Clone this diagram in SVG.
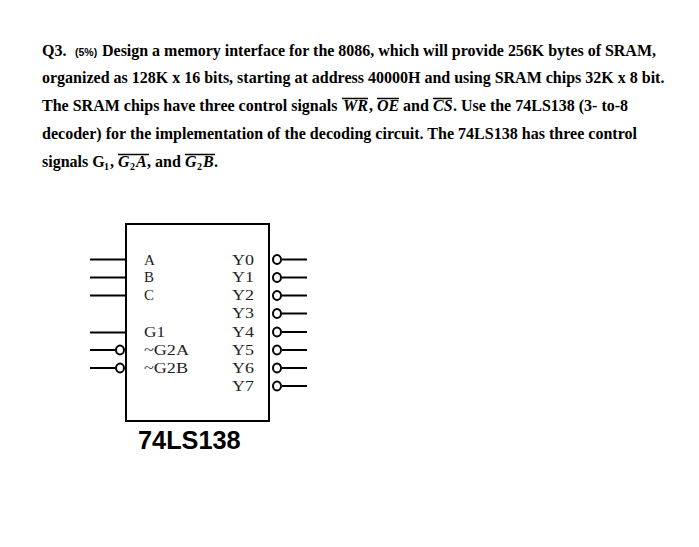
<svg xmlns="http://www.w3.org/2000/svg" width="699" height="547" viewBox="0 0 699 547">
<style>
.t{font-family:"Liberation Serif",serif;font-size:16px;font-weight:bold;fill:#000}
.i{font-style:italic}
.s{font-size:10px}
.o{stroke:#000;stroke-width:1.3;fill:none}
.m{font-family:"Liberation Serif",serif;font-size:15px;fill:#222}
.w{stroke:#000;stroke-width:2;fill:none}
.b{stroke:#000;stroke-width:2;fill:#fff}
</style>
<rect width="699" height="547" fill="#fff"/>
<g id="question">
<text class="t" x="42" y="56">Q3.</text>
<text x="75" y="56" font-family="Liberation Sans,sans-serif" font-size="10.500" font-weight="bold">(5%)</text>
<text class="t" x="102" y="56" textLength="554">Design a memory interface for the 8086, which will provide 256K bytes of SRAM,</text>
<text class="t" x="42" y="83">organized as 128K x 16 bits, starting at address 40000H and using SRAM chips 32K x 8 bit.</text>
<text class="t" x="42" y="111">The SRAM chips have three control signals</text>
<text class="t i" x="343" y="111">WR</text>
<text class="t" x="369" y="111">,</text>
<text class="t i" x="377" y="111">OE</text>
<text class="t" x="403" y="111">and</text>
<text class="t i" x="433" y="111">CS</text>
<text class="t" x="453" y="111">. Use the 74LS138 (3- to-8</text>
<text class="t" x="42" y="139" textLength="595">decoder) for the implementation of the decoding circuit. The 74LS138 has three control</text>
<text class="t" x="42" y="167">signals G</text>
<text class="t s" x="104" y="170">1</text>
<text class="t" x="110" y="167">,</text>
<text class="t i" x="118" y="167">G</text>
<text class="t s" x="130" y="170">2</text>
<text class="t i" x="136" y="167">A</text>
<text class="t" x="147" y="167">, and</text>
<text class="t i" x="185" y="167">G</text>
<text class="t s" x="197" y="170">2</text>
<text class="t i" x="203" y="167">B</text>
<text class="t" x="214" y="167">.</text>
<path class="o" d="M342 98.500H368M377 98.500H399M433 98.500H452M118 154.500H149M185 154.500H215"/>
</g>
<g id="connectors">
<path class="w" d="M90 259.500H126M90 277.500H126M90 295.500H126M90 332.500H126M90 350H115M90 368H115"/>
<path class="w" d="M282 259.500H307M282 277.500H307M282 295.500H307M282 313.500H307M282 332H307M282 350H307M282 368H307M282 386H307"/>
</g>
<g id="chip">
<rect x="126" y="224" width="143" height="197" fill="#fff" stroke="#000" stroke-width="2"/>
<ellipse class="b" cx="120" cy="350" rx="4" ry="4.500"/>
<ellipse class="b" cx="120" cy="368" rx="4" ry="4.500"/>
<ellipse class="b" cx="277" cy="259.500" rx="4" ry="4.500"/>
<ellipse class="b" cx="277" cy="277.500" rx="4" ry="4.500"/>
<ellipse class="b" cx="277" cy="295.500" rx="4" ry="4.500"/>
<ellipse class="b" cx="277" cy="313.500" rx="4" ry="4.500"/>
<ellipse class="b" cx="277" cy="332" rx="4" ry="4.500"/>
<ellipse class="b" cx="277" cy="350" rx="4" ry="4.500"/>
<ellipse class="b" cx="277" cy="368" rx="4" ry="4.500"/>
<ellipse class="b" cx="277" cy="386" rx="4" ry="4.500"/>
<text class="m" x="144" y="265" textLength="11" lengthAdjust="spacingAndGlyphs">A</text>
<text class="m" x="144" y="282" textLength="10" lengthAdjust="spacingAndGlyphs">B</text>
<text class="m" x="144" y="300" textLength="10" lengthAdjust="spacingAndGlyphs">C</text>
<text class="m" x="144" y="337" textLength="21" lengthAdjust="spacingAndGlyphs">G1</text>
<text class="m" x="144" y="355" textLength="45" lengthAdjust="spacingAndGlyphs">~G2A</text>
<text class="m" x="144" y="373" textLength="44" lengthAdjust="spacingAndGlyphs">~G2B</text>
<text class="m" x="232" y="265" textLength="22" lengthAdjust="spacingAndGlyphs">Y0</text>
<text class="m" x="232" y="282" textLength="22" lengthAdjust="spacingAndGlyphs">Y1</text>
<text class="m" x="232" y="300" textLength="22" lengthAdjust="spacingAndGlyphs">Y2</text>
<text class="m" x="232" y="318" textLength="22" lengthAdjust="spacingAndGlyphs">Y3</text>
<text class="m" x="232" y="337" textLength="22" lengthAdjust="spacingAndGlyphs">Y4</text>
<text class="m" x="232" y="355" textLength="22" lengthAdjust="spacingAndGlyphs">Y5</text>
<text class="m" x="232" y="373" textLength="22" lengthAdjust="spacingAndGlyphs">Y6</text>
<text class="m" x="232" y="391" textLength="22" lengthAdjust="spacingAndGlyphs">Y7</text>
<text x="138" y="449" font-family="Liberation Sans,sans-serif" font-size="25.300" font-weight="bold">74LS138</text>
</g>
</svg>
